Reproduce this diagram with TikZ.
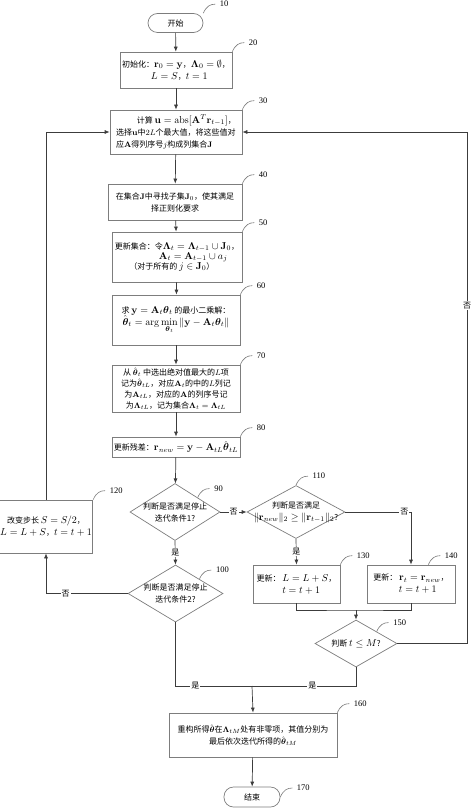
\documentclass[tikz,border=0pt]{standalone}
\usepackage{amsmath,amssymb}
\usepackage[no-math]{fontspec}
\setmainfont{Liberation Serif}
\newfontfamily\cjk{Noto Sans CJK SC}
\usetikzlibrary{arrows.meta,shapes.geometric}

\newcommand{\mth}[1]{{\fontsize{10}{12}\selectfont$#1$}}

\begin{document}
\begin{tikzpicture}[x=1pt,y=-1pt,>={Latex[length=5pt,width=4pt]},
  line width=0.7pt,font=\cjk\fontsize{8}{12}\selectfont]
\definecolor{boxgray}{RGB}{125,125,125}
\definecolor{linegray}{RGB}{60,60,60}
\tikzset{
  procbox/.style={draw=boxgray,align=center,inner sep=1pt},
  termbox/.style={draw=boxgray,rounded corners=9.5pt,inner sep=1pt},
  decision/.style={diamond,draw=boxgray,inner sep=0pt},
  flow/.style={draw=linegray,->},
  plain/.style={draw=linegray},
  yesno/.style={fill=white,inner sep=1pt,font=\cjk\fontsize{8}{9}\selectfont}
}
\newcommand{\refmark}[2]{
  \draw[boxgray,line width=0.6pt] (#1) .. controls +(3,-7) and +(-5,0) .. ++(12,-9)
    node[right=1pt,text=black,font=\fontsize{8.5}{10}\selectfont] {#2};
}
\useasboundingbox (0,0) rectangle (474,810);

% main column
\node[termbox,minimum width=55,minimum height=19] (start) at (175.5,23) {开始};
\node[procbox,align=left,minimum width=112,minimum height=36] (init) at (176,70)
  {初始化：\mth{\mathbf r_0=\mathbf y}，\mth{\mathbf\Lambda_0=\emptyset}，\\
   \hspace*{3.6em}\mth{L=S}，\mth{t=1}};
\node[procbox,align=left,minimum width=132,minimum height=44] (calc) at (176,132)
  {\hspace*{2.6em}计算 \mth{\mathbf u=\mathrm{abs}[\mathbf A^T\mathbf r_{t-1}]}，\\
   选择$\mathbf u$中$2L$个最大值，将这些值对\\
   应$\mathbf A$得列序号$j$构成列集合$\mathbf J$};
\node[procbox,minimum width=134,minimum height=36] (subset) at (175,202)
  {在集合$\mathbf J$中寻找子集$\mathbf J_0$，使其满足\\择正则化要求};
\node[procbox,align=left,minimum width=130,minimum height=50] (update) at (177,257)
  {更新集合：令\mth{\mathbf\Lambda_t=\mathbf\Lambda_{t-1}\cup\mathbf J_0}，\\[-2pt]
   \hspace*{5.5em}\mth{\mathbf A_t=\mathbf A_{t-1}\cup a_j}\\[-2pt]
   \hspace*{1.8em}（对于所有的 \mth{j\in\mathbf J_0}）};
\node[procbox,minimum width=128,minimum height=50] (lsq) at (176,320)
  {求 \mth{\mathbf y=\mathbf A_t\boldsymbol\theta_t} 的最小二乘解：\\
   \mth{\hat{\boldsymbol\theta}_t=\arg\min\limits_{\boldsymbol\theta_t}\|\mathbf y-\mathbf A_t\boldsymbol\theta_t\|}};
\node[procbox,minimum width=128,minimum height=47,
  font=\cjk\fontsize{8}{11}\selectfont] (pick) at (176,388.5)
  {从 $\hat{\boldsymbol\theta}_t$ 中选出绝对值最大的$L$项\\
   记为$\hat{\boldsymbol\theta}_{tL}$，对应$\mathbf A_t$的中的$L$列记\\
   为$\mathbf A_{tL}$，对应的$\mathbf A$的列序号记\\
   为$\mathbf\Lambda_{tL}$，记为集合$\mathbf\Lambda_t=\mathbf\Lambda_{tL}$};
\node[procbox,minimum width=128,minimum height=20] (resid) at (176,447)
  {更新残差：\mth{\mathbf r_{\mathit{new}}=\mathbf y-\mathbf A_{tL}\hat{\boldsymbol\theta}_{tL}}};

% decisions
\node[decision,minimum width=90,minimum height=57,
  label={[align=center]center:判断是否满足停止\\迭代条件1?}] (stopa) at (175,512) {};
\node[decision,minimum width=98,minimum height=53,
  label={[align=center]center:判断是否满足\\\mth{\|\mathbf r_{\mathit{new}}\|_2\ge\|\mathbf r_{t-1}\|_2}?}] (check) at (296,512) {};
\node[decision,minimum width=95,minimum height=57,
  label={[align=center]center:判断是否满足停止\\迭代条件2?}] (stopb) at (175.5,593.5) {};
\node[decision,minimum width=82,minimum height=47,
  label={center:判断 \mth{t\le M}?}] (iter) at (356,643.5) {};

% side boxes
\node[procbox,minimum width=86,minimum height=53] (shrink) at (46,526.5)
  {改变步长 \mth{S=S/2}，\\\mth{L=L+S}，\mth{t=t+1}};
\node[procbox,align=left,minimum width=87,minimum height=38] (grow) at (296.5,584)
  {更新：\ \mth{L=L+S}，\\\hspace*{3.2em}\mth{t=t+1}};
\node[procbox,align=left,minimum width=88,minimum height=38] (keep) at (411,584)
  {更新：\ \mth{\mathbf r_t=\mathbf r_{\mathit{new}}}，\\\hspace*{3.2em}\mth{t=t+1}};

% end
\node[procbox,minimum width=168,minimum height=44] (recon) at (253,735)
  {重构所得$\hat{\boldsymbol\theta}$在$\mathbf\Lambda_{tM}$处有非零项，其值分别为\\
   最后依次迭代所得的$\hat{\boldsymbol\theta}_{tM}$};
\node[termbox,minimum width=56,minimum height=20] (finish) at (252,797) {结束};

\coordinate (merge) at (356,610);
\coordinate (gather) at (252,686);
\coordinate (rightrail) at (467,643.5);

% connectors
\draw[flow] (start) -- (init);
\draw[flow] (init) -- (calc);
\draw[flow] (calc) -- (subset);
\draw[flow] (subset) -- (update);
\draw[flow] (update) -- (lsq);
\draw[flow] (lsq) -- (pick);
\draw[flow] (pick) -- (resid);
\draw[flow] (resid) -- (stopa);
\draw[flow] (stopa.east) -- node[yesno] {否} (check.west);
\draw[flow] (check.east) -| node[yesno,pos=0.45] {否} (keep.north);
\draw[flow] (check.south) -- node[yesno] {是} (grow.north);
\draw[flow] (stopa.south) -- node[yesno] {是} (stopb.north);
\draw[flow] (stopb.west) -| node[yesno,pos=0.38] {否} (shrink.south);
\draw[flow] (shrink.north) |- (calc.west);
\draw[plain] (grow.south) |- (merge) -| (keep.south);
\draw[flow] (merge) -- (iter.north);
\draw[plain] (iter.east) -- (rightrail);
\draw[flow] (rightrail) |- node[yesno,pos=0.33] {否} (calc.east);
\draw[plain] (stopb.south) |- node[yesno,pos=0.63] {是} (gather);
\draw[plain] (iter.south) |- node[yesno,pos=0.71] {是} (gather);
\draw[flow] (gather) -- (recon.north);
\draw[flow] (recon) -- (finish);

% reference numbers
\refmark{start.north east}{10}
\refmark{init.north east}{20}
\refmark{calc.north east}{30}
\refmark{subset.north east}{40}
\refmark{update.north east}{50}
\refmark{lsq.north east}{60}
\refmark{pick.north east}{70}
\refmark{resid.north east}{80}
\refmark{stopa.north east}{90}
\refmark{stopb.north east}{100}
\refmark{check.north}{110}
\refmark{shrink.north east}{120}
\refmark{grow.north east}{130}
\refmark{[xshift=-27pt]keep.north east}{140}
\refmark{iter.north east}{150}
\refmark{recon.north east}{160}
\refmark{finish.east}{170}
\end{tikzpicture}
\end{document}
